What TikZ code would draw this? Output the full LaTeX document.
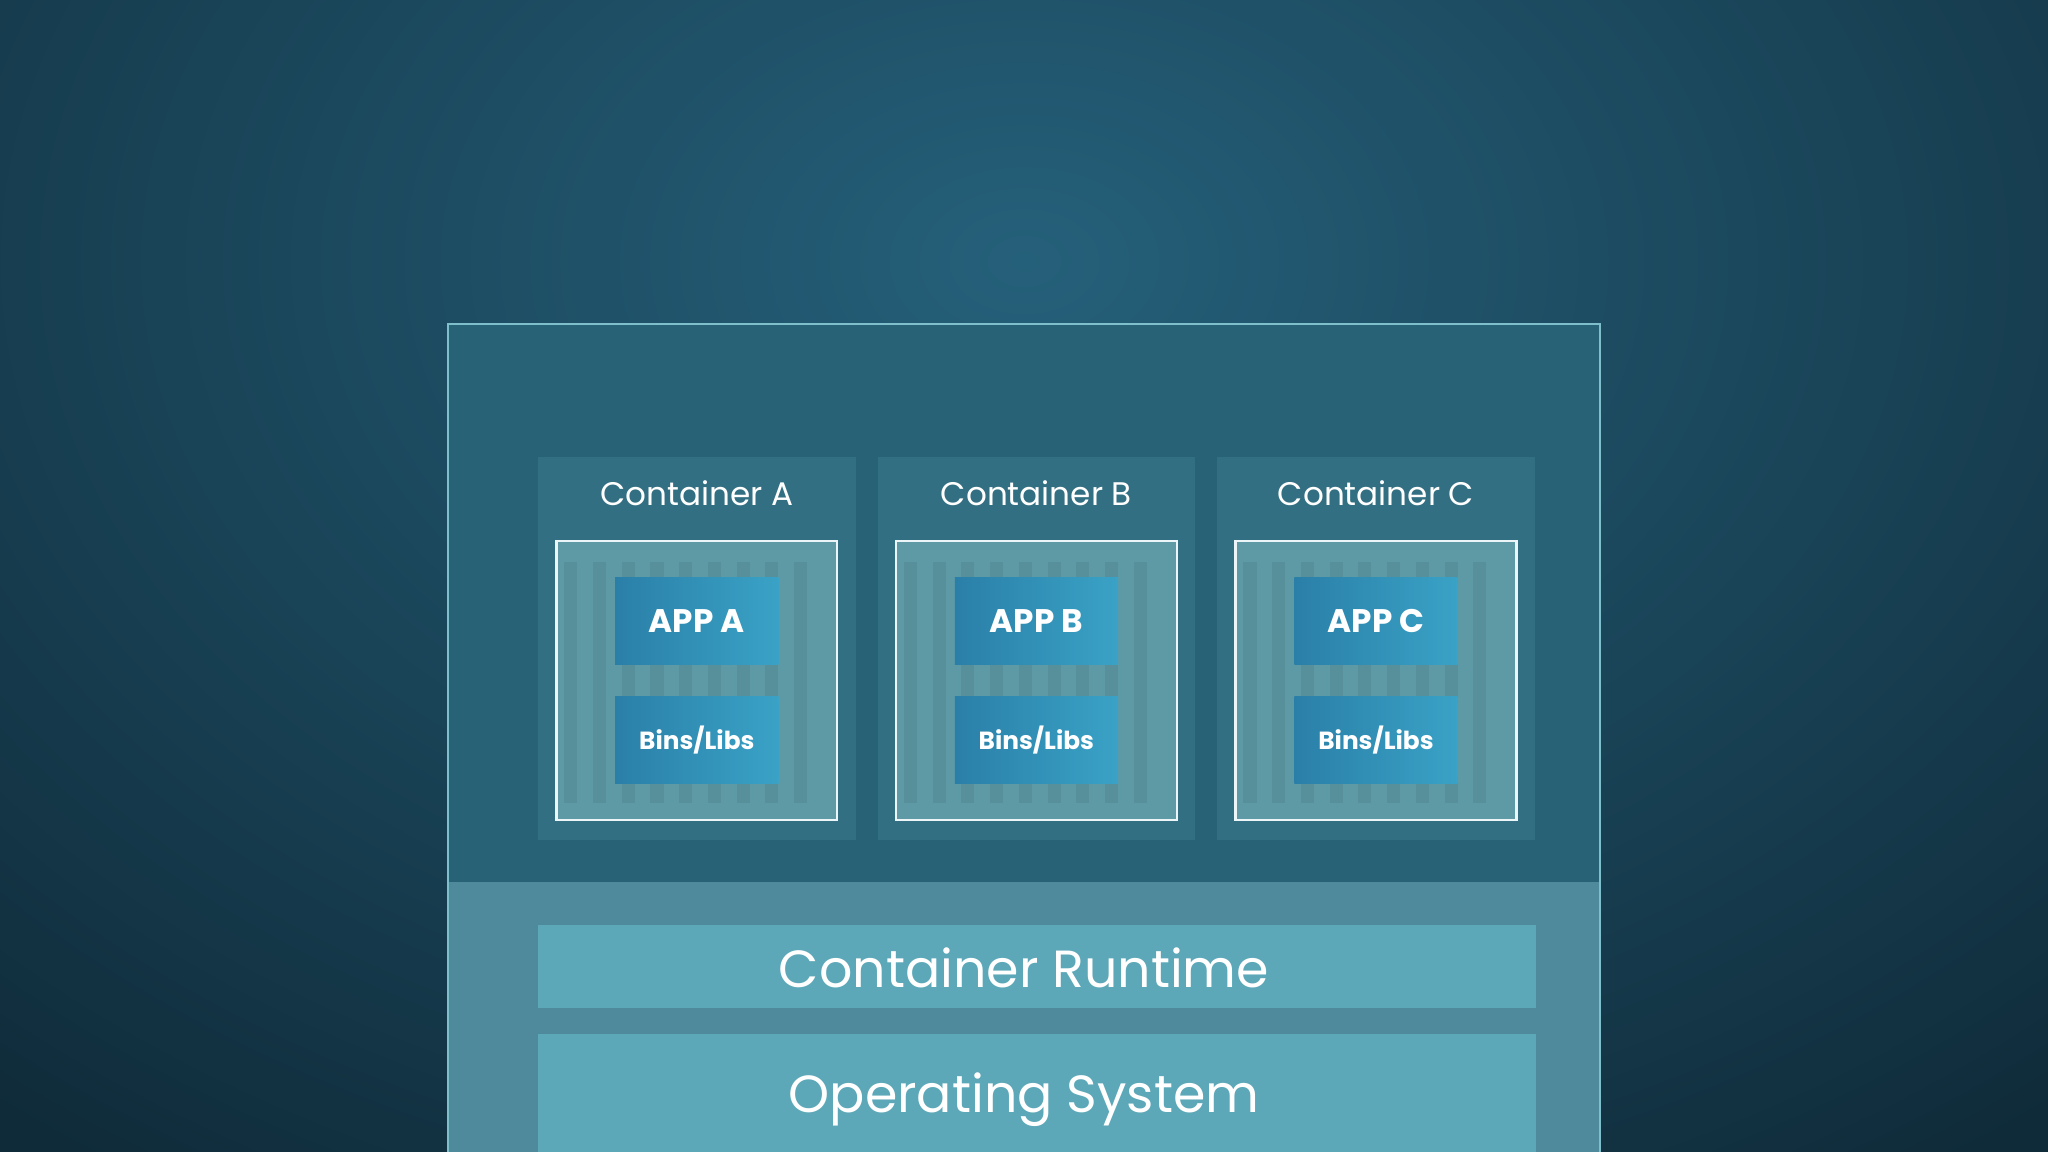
\documentclass[tikz,border=0pt]{standalone}
\usepackage{fontspec}
\setmainfont{Poppins}
\definecolor{bgin}{HTML}{25607A}
\definecolor{bgout}{HTML}{0E2836}
\definecolor{topbox}{HTML}{286277}
\definecolor{lowbox}{HTML}{4E8A9B}
\definecolor{barc}{HTML}{5CA8B8}
\definecolor{panelc}{HTML}{336F82}
\definecolor{innerc}{HTML}{5E9AA6}
\definecolor{appl}{HTML}{2A7FA8}
\definecolor{appr}{HTML}{3AA2C6}
\definecolor{edge}{HTML}{7FBFCC}
\begin{document}
\begin{tikzpicture}[x=1pt,y=-1pt,
  panel/.style={fill=panelc,draw=none},
  appbox/.style={left color=appl,right color=appr,draw=none,text=white,font=\bfseries\fontsize{25}{28}\selectfont,minimum width=125pt,minimum height=67pt,inner sep=0pt},
  binbox/.style={appbox,font=\bfseries\fontsize{19}{22}\selectfont},
  clabel/.style={text=white,font=\fontsize{25}{30}\selectfont},
  bar/.style={fill=barc,draw=none,text=white,font=\fontsize{40}{46}\selectfont,inner sep=0pt}]
\useasboundingbox (0,0) rectangle (1568,882);
\shade[inner color=bgin,outer color=bgout] (-500,-700) rectangle (2068,1100);
\clip (0,0) rectangle (1568,882);
\fill[topbox] (343,248) rectangle (1225,675);
\fill[lowbox] (343,675) rectangle (1225,885);
\draw[edge,line width=1.5pt] (343,885) -- (343,248) -- (1225,248) -- (1225,885);
\foreach \n/\x/\l in {A/412/A,B/672/B,C/932/C}{
  \fill[panel] (\x,350) rectangle ++(243,293);
  \node[clabel] (lab\n) at (\x+121.5,378) {Container \l};
  \fill[innerc] (\x+14,414) rectangle ++(215,214);
  \foreach \i in {0,...,8}{
    \fill[black,opacity=0.07] (\x+20+\i*22,430) rectangle ++(10,185);
  }
  \draw[white!85!edge,line width=1.8pt] (\x+14,414) rectangle ++(215,214);
  \node[appbox] (app\n) at (\x+121.5,475.5) {APP \l};
  \node[binbox] (bin\n) at (\x+121.5,566.5) {Bins/Libs};
}
\node[bar,minimum width=764pt,minimum height=64pt] (rt) at (794,740) {};
\node[text=white,font=\fontsize{40}{46}\selectfont] (rttext) at (784,741) {Container Runtime};
\node[bar,minimum width=764pt,minimum height=100pt] (os) at (794,842) {};
\node[text=white,font=\fontsize{40}{46}\selectfont] (ostext) at (784,842) {Operating System};
\end{tikzpicture}
\end{document}
